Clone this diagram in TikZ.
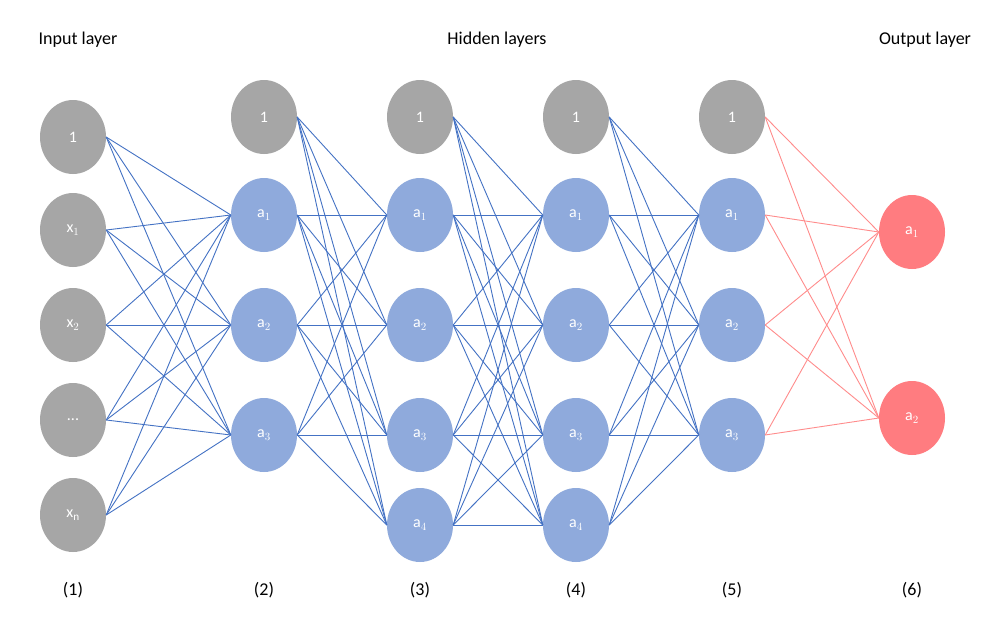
\documentclass[tikz,border=0pt]{standalone}
\usepackage{fontspec}
\setmainfont{Carlito}
\usetikzlibrary{shapes.geometric}
\definecolor{ngray}{RGB}{166,166,166}
\definecolor{nblue}{RGB}{143,170,220}
\definecolor{nred}{RGB}{255,124,128}
\definecolor{lblue}{RGB}{68,114,196}
\definecolor{lred}{RGB}{255,140,140}
\tikzset{
 neuron/.style={ellipse,minimum width=66pt,minimum height=74pt,inner sep=0pt,text=white,font=\fontsize{16}{16}\selectfont},
 gn/.style={neuron,fill=ngray},
 bn/.style={neuron,fill=nblue},
 rn/.style={neuron,fill=nred},
 bl/.style={lblue,line width=0.9pt},
 rl/.style={lred,line width=0.9pt},
 lab/.style={font=\fontsize{18}{18}\selectfont,text=black}
}
\begin{document}
\begin{tikzpicture}[x=1pt,y=-1pt]
\path[use as bounding box,fill=white] (0,0) rectangle (984,621);
\node[lab] at (78,40) {Input layer};
\node[lab] at (497,40) {Hidden layers};
\node[lab] at (925,40) {Output layer};
\foreach \t/\x in {1/73,2/264,3/420,4/576,5/732,6/912}
  \node[lab] (n\t) at (\x,590) {(\t)};
\node[gn] (A0) at (73,137) {1};
\node[gn] (A1) at (73,230) {x$_1$};
\node[gn] (A2) at (73,325) {x$_2$};
\node[gn] (A3) at (73,420) {...};
\node[gn] (A4) at (73,515) {x$_\mathrm{n}$};
\foreach \L/\x in {B/264,C/420,D/576,E/732}{
  \node[gn] (\L0) at (\x,117) {1};
  \node[bn] (\L1) at (\x,215) {a$_1$};
  \node[bn] (\L2) at (\x,325) {a$_2$};
  \node[bn] (\L3) at (\x,435) {a$_3$};
}
\node[bn] (C4) at (420,525) {a$_4$};
\node[bn] (D4) at (576,525) {a$_4$};
\node[rn] (F1) at (912,232) {a$_1$};
\node[rn] (F2) at (912,418) {a$_2$};
\foreach \i in {0,...,4} \foreach \j in {1,2,3} \draw[bl] (A\i.east) -- (B\j.west);
\foreach \i in {0,...,3} \foreach \j in {1,...,4} \draw[bl] (B\i.east) -- (C\j.west);
\foreach \i in {0,...,4} \foreach \j in {1,...,4} \draw[bl] (C\i.east) -- (D\j.west);
\foreach \i in {0,...,4} \foreach \j in {1,2,3} \draw[bl] (D\i.east) -- (E\j.west);
\foreach \i in {0,...,3} \foreach \j in {1,2} \draw[rl] (E\i.east) -- (F\j.west);
\end{tikzpicture}
\end{document}
